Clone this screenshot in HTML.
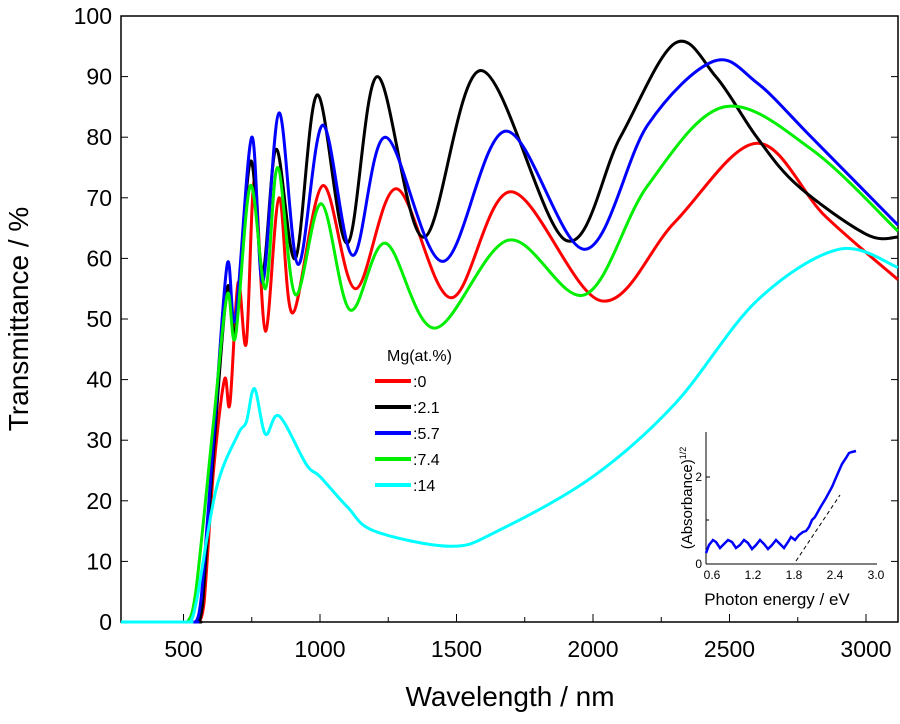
<!DOCTYPE html>
<html><head><meta charset="utf-8"><style>
body{margin:0;background:#fff;}
svg text{font-family:"Liberation Sans",sans-serif;}
</style></head><body>
<svg id="s" width="900" height="719" xmlns="http://www.w3.org/2000/svg">
<rect x="121" y="16" width="777" height="606" fill="none" stroke="#000" stroke-width="1.5"/>
<g id="ticks"></g>
<g id="curves" fill="none" stroke-width="3" stroke-linejoin="round"></g>
<g font-size="23" text-anchor="end" id="yl"></g>
<g font-size="23" text-anchor="middle" id="xl"></g>
<text x="510" y="706" font-size="28" text-anchor="middle">Wavelength / nm</text>
<text transform="translate(28,319) rotate(-90)" font-size="28" text-anchor="middle">Transmittance / %</text>
<text x="387" y="361" font-size="16">Mg(at.%)</text>
<g stroke-width="4">
<line x1="375" y1="381" x2="411" y2="381" stroke="#f00"/>
<line x1="375" y1="407" x2="411" y2="407" stroke="#000"/>
<line x1="375" y1="433" x2="411" y2="433" stroke="#00f"/>
<line x1="375" y1="459" x2="411" y2="459" stroke="#0e0"/>
<line x1="375" y1="485" x2="411" y2="485" stroke="#0ff"/>
</g>
<g font-size="16">
<text x="413" y="387">:0</text><text x="413" y="413">:2.1</text><text x="413" y="439">:5.7</text><text x="413" y="465">:7.4</text><text x="413" y="491">:14</text>
</g>
<g>
<line x1="706" y1="432" x2="706" y2="564" stroke="#000"/>
<line x1="706" y1="564" x2="877" y2="564" stroke="#000"/>
<g stroke="#000"><line x1="706" y1="477" x2="710" y2="477"/><line x1="706" y1="520" x2="709" y2="520"/></g>
<g font-size="12" text-anchor="middle"><text x="712" y="579">0.6</text><text x="753" y="579">1.2</text><text x="794" y="579">1.8</text><text x="835" y="579">2.4</text><text x="876" y="579">3.0</text></g>
<text x="702" y="568" font-size="12" text-anchor="end">0</text>
<text x="702" y="481" font-size="12" text-anchor="end">2</text>
<text x="777" y="605" font-size="17" text-anchor="middle">Photon energy / eV</text>
<text transform="translate(692,498) rotate(-90)" font-size="15" text-anchor="middle">(Absorbance)<tspan font-size="9" dy="-6">1/2</tspan></text>
<line x1="796" y1="561" x2="840" y2="495" stroke="#000" stroke-dasharray="4,3"/>
<polyline fill="none" stroke="#00f" stroke-width="2.5" points="706,553 709,545 713,540 716,542 720,548 724,544 728,540 732,542 736,548 740,545 744,540 748,543 752,549 756,545 760,540 764,544 768,549 772,545 776,540 780,544 784,548 788,542 791,537 795,540 799,535 803,532 806,531 809,527 812,520 815,517 820,508 826,498 832,487 838,473 842,464 846,458 849,453 852,452 856,451"/>
</g>
</svg>
<script>
var NS="http://www.w3.org/2000/svg";
function el(parent,tag,attrs,txt){var e=document.createElementNS(NS,tag);for(var k in attrs)e.setAttribute(k,attrs[k]);if(txt!==undefined)e.textContent=txt;document.getElementById(parent).appendChild(e);}
var X=function(n){return 320+(n-1000)*0.273},Y=function(t){return 622-t*6.06};
for(var t=0;t<=100;t+=10){el('ticks','line',{x1:121,y1:Y(t),x2:128,y2:Y(t),stroke:'#000'});el('ticks','line',{x1:891,y1:Y(t),x2:898,y2:Y(t),stroke:'#000'});el('yl','text',{x:112,y:Y(t)+8},String(t));}
for(var n=500;n<=3000;n+=250){var l=(n%500==0)?8:5;el('ticks','line',{x1:X(n),y1:622,x2:X(n),y2:622-l,stroke:'#000'});}
for(var n=500;n<=3000;n+=500)el('xl','text',{x:X(n),y:657},String(n));
function cl(v){return Math.min(v,622);}
function path(d){var p=d.map(function(a){return[X(a[0]),Y(a[1])]});var r='M'+p[0][0]+','+p[0][1];
for(var i=0;i<p.length-1;i++){var p0=p[i-1]||p[i],p1=p[i],p2=p[i+1],p3=p[i+2]||p2;
r+='C'+(p1[0]+(p2[0]-p0[0])/6)+','+cl(p1[1]+(p2[1]-p0[1])/6)+' '+(p2[0]-(p3[0]-p1[0])/6)+','+cl(p2[1]-(p3[1]-p1[1])/6)+' '+p2[0]+','+p2[1];}return r;}
var C={
'#f00':[[271,0],[540,0],[555,0],[575,3],[610,25],[650,40],[670,36],[700,56],[730,46],[760,73],[800,48],[850,70],[900,51],[1010,72],[1130,55],[1280,71.5],[1480,53.5],[1700,71],[2030,53],[2300,66],[2600,79],[2850,67],[3117,56.5]],
'#000':[[271,0],[540,0],[555,0],[570,3],[610,28],[660,55],[690,48],[745,76],[790,58],[840,78],[910,60],[990,87],[1100,62.5],[1210,90],[1380,63.5],[1590,91],[1900,63],[2100,80],[2300,95.5],[2450,90],[2600,80],[2750,72],[3000,64],[3117,63.5]],
'#00f':[[271,0],[530,0],[545,0],[565,4],[610,30],[660,59],[690,50],[750,80],[790,56],[850,84],[920,59],[1010,82],[1120,60.5],[1240,80],[1450,59.5],[1680,81],[1970,61.5],[2200,82],[2440,92.5],[2600,89],[2800,80],[3117,65.5]],
'#0e0':[[271,0],[500,0],[515,0],[545,5],[610,33],[660,54],[690,47],[745,72],[800,55],[845,75],[910,54],[1005,69],[1110,51.5],[1240,62.5],[1420,48.5],[1690,63],[1970,54],[2200,72],[2480,85],[2800,78],[3117,64.5]],
'#0ff':[[271,0],[510,0],[525,0],[550,4],[620,22],[700,31],[730,33],[760,38.5],[800,31],[850,34],[950,26],[1000,24],[1100,19],[1200,15],[1480,12.5],[1650,15],[2000,24],[2300,36],[2600,53],[2900,61.5],[3117,58.5]]};
for(var c in C)el('curves','path',{d:path(C[c]),stroke:c});
</script>
</body></html>
